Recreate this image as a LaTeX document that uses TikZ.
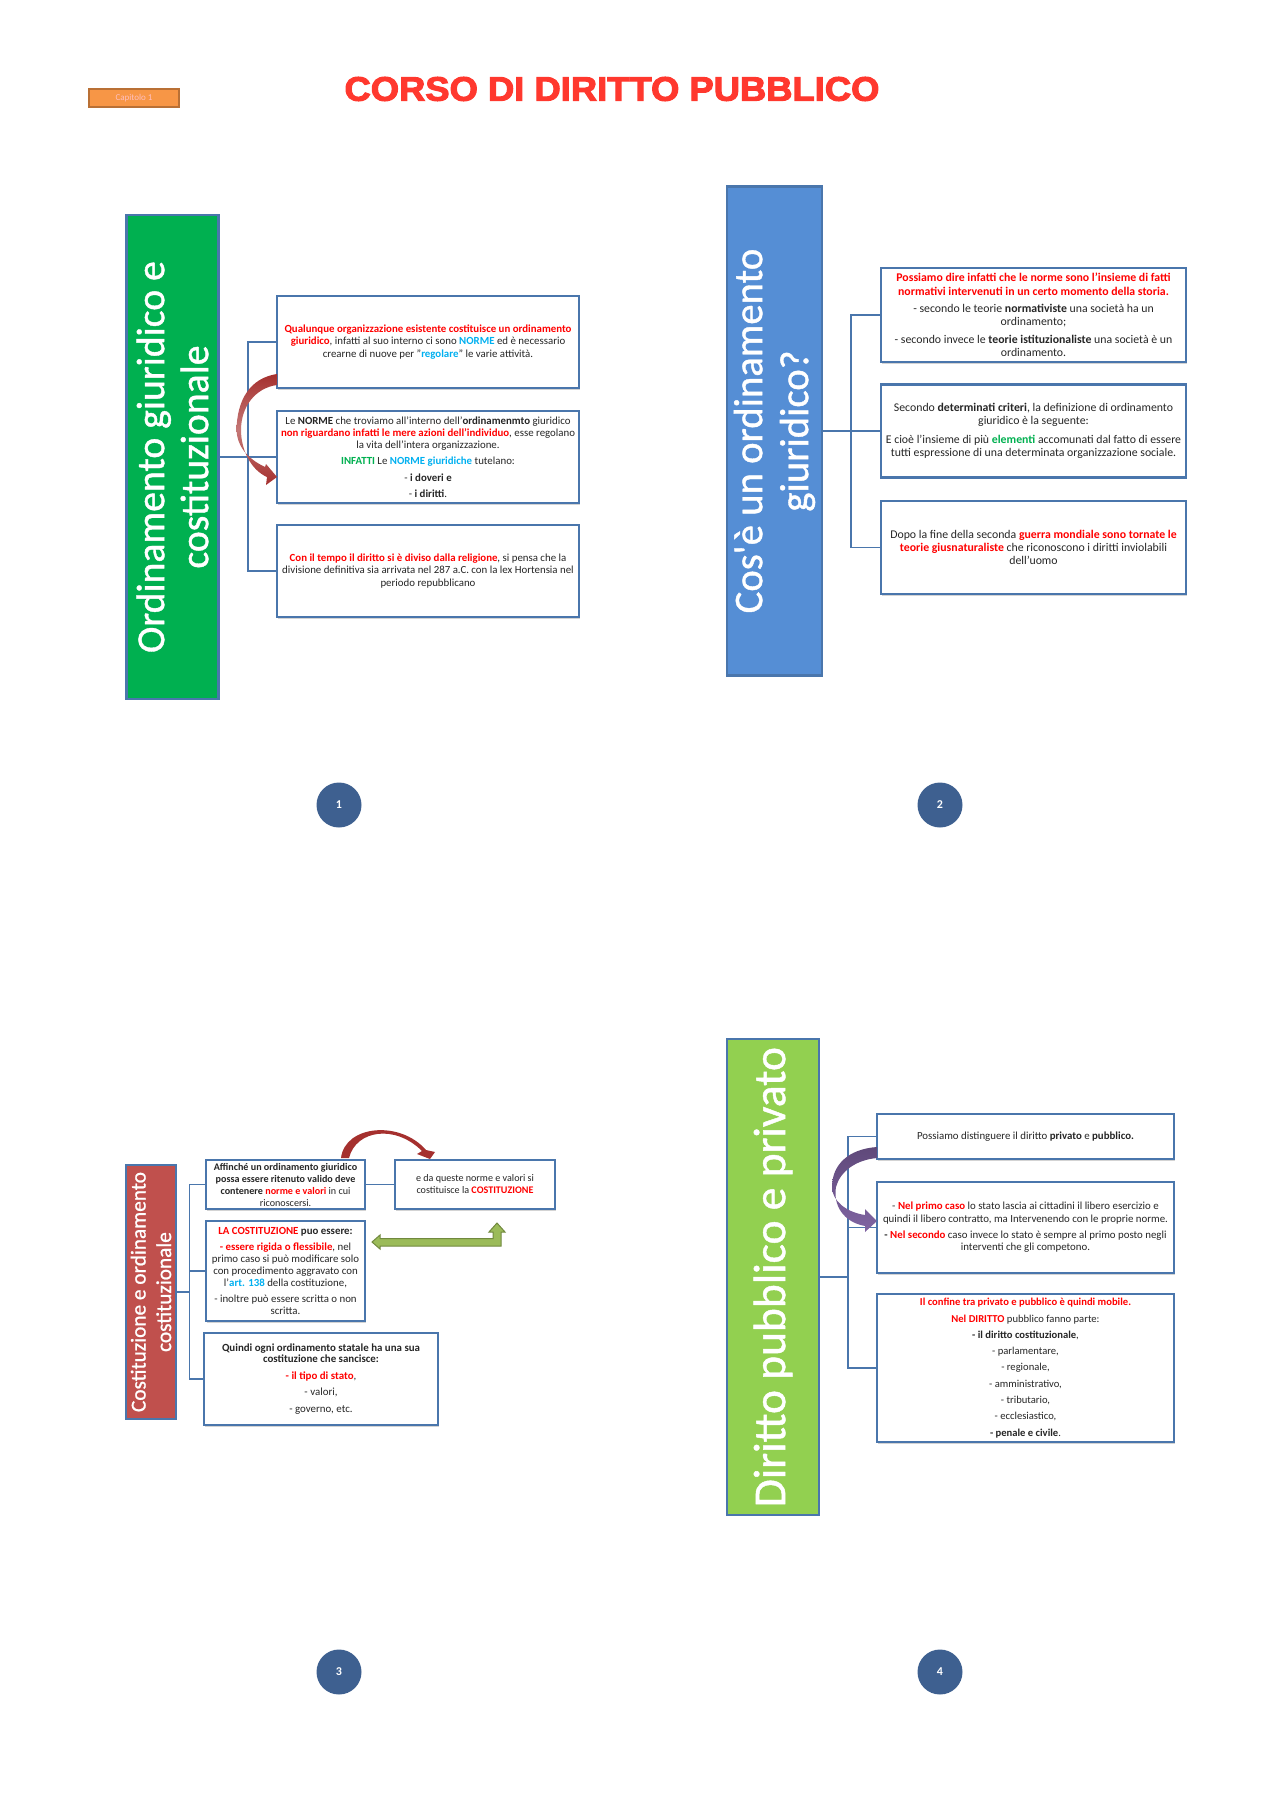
\documentclass[tikz,border=0pt]{standalone}
\usepackage{fontspec}
\setmainfont{Carlito}
\newfontfamily\titlefont[FakeBold=3,FakeStretch=1.07]{Liberation Sans}
\newfontfamily\pannellofont[FakeBold=1]{Carlito}
\usepackage{tikz}
\usetikzlibrary{arrows.meta,shadows}

\definecolor{rosso}{HTML}{FF0000}
\definecolor{azzurro}{HTML}{00B0F0}
\definecolor{verde}{HTML}{00B050}
\definecolor{bordo}{HTML}{4A76AC}
\definecolor{celeste}{HTML}{558ED5}
\definecolor{mattone}{HTML}{C0504D}
\definecolor{prato}{HTML}{92D050}
\definecolor{arancio}{HTML}{F79646}
\definecolor{ruggine}{HTML}{B97035}
\definecolor{notte}{HTML}{3E6090}
\definecolor{vino}{HTML}{A5302E}
\definecolor{oliva}{HTML}{9BBB59}
\definecolor{olivascuro}{HTML}{71893F}
\definecolor{prugna}{HTML}{5F497A}
\definecolor{lilla}{HTML}{8064A2}
\newcommand{\rosso}[1]{\textcolor{rosso}{\textbf{#1}}}
\newcommand{\azzurro}[1]{\textcolor{azzurro}{\textbf{#1}}}
\newcommand{\verde}[1]{\textcolor{verde}{\textbf{#1}}}

\tikzset{
    pannello/.style={draw=bordo, line width=2.8pt, rectangle, inner sep=0pt, text=white, align=center, rotate=90,
        drop shadow={shadow xshift=1pt, shadow yshift=-1pt, opacity=0.3}},
    scatola/.style={draw=bordo, fill=white, line width=2.8pt, rectangle, inner sep=0pt, align=center, text=black!85,
        font=\fontsize{10.85}{12.3}\selectfont,
        drop shadow={shadow xshift=1pt, shadow yshift=-1.5pt, opacity=0.35}},
    grande/.style={scatola, font=\fontsize{11.8}{13.3}\selectfont},
    piccola/.style={scatola, font=\fontsize{10.1}{12}\selectfont},
    numero/.style={circle, fill=notte, text=white, minimum size=45pt, inner sep=0pt, font=\fontsize{12}{14}\selectfont\bfseries},
    ramo/.style={draw=bordo, line width=1.9pt}
}

\begin{document}
\begin{tikzpicture}[x=1pt, y=-1pt]
    \useasboundingbox (0, 0) rectangle (1280, 1811);

    \node[draw=ruggine, fill=arancio, line width=1.8pt, minimum width=90pt, minimum height=18pt, inner sep=0pt, text=red!25!white, font=\fontsize{9}{10}\selectfont] (capitolo) at (134, 98) {Capitolo 1};
    \node[text={rgb,255:red,255;green,56;blue,46}, font=\fontsize{34}{36}\titlefont\bfseries] (titolo) at (612, 89) {CORSO DI DIRITTO PUBBLICO};

    \node[pannello, fill=verde, minimum width=484pt, minimum height=92pt, font=\fontsize{39.7}{44}\pannellofont] (ordinamento) at (172.5, 457) {Ordinamento giuridico e\\costituzionale};
    \node[scatola, minimum width=302pt, minimum height=92pt] (qualunque) at (428, 342) {\rosso{Qualunque organizzazione esistente costituisce un ordinamento}\\\rosso{giuridico}, infatti al suo interno ci sono \azzurro{NORME} ed è necessario\\crearne di nuove per "\azzurro{regolare}" le varie attività.};
    \node[scatola, minimum width=302pt, minimum height=92pt] (norme) at (428, 457) {Le \textbf{NORME} che troviamo all'interno dell'\textbf{ordinamenmto} giuridico\\\rosso{non riguardano infatti le mere azioni dell'individuo}, esse regolano\\la vita dell'intera organizzazione.\\[4pt]\verde{INFATTI} Le \azzurro{NORME giuridiche} tutelano:\\[4pt]- \textbf{i doveri e}\\[4pt]- \textbf{i diritti}.};
    \node[scatola, minimum width=302pt, minimum height=92pt] (tempo) at (428, 571) {\rosso{Con il tempo il diritto si è diviso dalla religione}, si pensa che la\\divisione definitiva sia arrivata nel 287 a.C. con la lex Hortensia nel\\periodo repubblicano};
    \coordinate (snodo1) at (248, 457);
    \draw[ramo] (ordinamento.south) -- (snodo1);
    \draw[ramo] (snodo1) |- (qualunque.west);
    \draw[ramo] (snodo1) -- (norme.west);
    \draw[ramo] (snodo1) |- (tempo.west);
    \shade[top color=vino, bottom color=vino, middle color=vino!65!white, shading angle=0]
        (277, 374) .. controls (250, 378) and (237, 400) .. (236.5, 430) .. controls (237, 445) and (246, 458) .. (265, 467) -- (266, 464) -- (277, 477) -- (266, 485) -- (267, 477)
        .. controls (251, 470) and (241, 450) .. (241, 430) .. controls (241, 407) and (255, 388) .. (277, 385) -- cycle;

    \node[pannello, fill=celeste, minimum width=489pt, minimum height=95pt, font=\fontsize{40.7}{46}\pannellofont] (cose) at (774.5, 431) {Cos'è un ordinamento\\giuridico?};
    \node[grande, minimum width=305pt, minimum height=94pt] (possiamo) at (1033.5, 315) {\rosso{Possiamo dire infatti che le norme sono l'insieme di fatti}\\\rosso{normativi intervenuti in un certo momento della storia.}\\[4pt]- secondo le teorie \textbf{normativiste} una società ha un\\ordinamento;\\[4pt]- secondo invece le \textbf{teorie istituzionaliste} una società è un\\ordinamento.};
    \node[grande, minimum width=305pt, minimum height=93pt] (criteri) at (1033.5, 431) {Secondo \textbf{determinati criteri}, la definizione di ordinamento\\giuridico è la seguente:\\[5pt]E cioè l'insieme di più \verde{elementi} accomunati dal fatto di essere\\tutti espressione di una determinata organizzazione sociale.};
    \node[grande, minimum width=305pt, minimum height=93pt] (dopo) at (1033.5, 547.5) {Dopo la fine della seconda \rosso{guerra mondiale sono tornate le}\\\rosso{teorie giusnaturaliste} che riconoscono i diritti inviolabili\\dell'uomo};
    \coordinate (snodo2) at (851, 431);
    \draw[ramo] (cose.south) -- (snodo2);
    \draw[ramo] (snodo2) -- (criteri.west);
    \draw[ramo] (snodo2) |- (possiamo.west);
    \draw[ramo] (snodo2) |- (dopo.west);

    \node[pannello, fill=mattone, minimum width=254pt, minimum height=50pt, font=\fontsize{21.3}{25.5}\pannellofont] (costituzione) at (151, 1292) {Costituzione e ordinamento\\costituzionale};
    \node[piccola, minimum width=159pt, minimum height=49pt] (affinche) at (285.5, 1184.5) {\textbf{Affinché un ordinamento giuridico}\\\textbf{possa essere ritenuto valido deve}\\\textbf{contenere} \rosso{norme e valori} in cui\\riconoscersi.};
    \node[piccola, minimum width=160pt, minimum height=49pt] (queste) at (475, 1184.5) {e da queste norme e valori si\\costituisce la \rosso{COSTITUZIONE}};
    \node[scatola, font=\fontsize{10.85}{12}\selectfont, minimum width=159pt, minimum height=100pt] (puo) at (285.5, 1271) {\rosso{LA COSTITUZIONE} \textbf{puo essere:}\\[4pt]\rosso{- essere rigida o flessibile}, nel\\primo caso si può modificare solo\\con procedimento aggravato con\\l'\azzurro{art. 138} della costituzione,\\[4pt]- inoltre può essere scritta o non\\scritta.};
    \node[scatola, font=\fontsize{10.9}{11.5}\selectfont, minimum width=234pt, minimum height=92pt] (statale) at (321, 1379) {\textbf{Quindi ogni ordinamento statale ha una sua}\\\textbf{costituzione che sancisce:}\\[5pt]\rosso{- il tipo di stato},\\[5pt]- valori,\\[5pt]- governo, etc.};
    \coordinate (snodo3) at (189.5, 1292);
    \draw[ramo] (costituzione.south) -- (snodo3);
    \draw[ramo] (snodo3) |- (affinche.west);
    \draw[ramo] (snodo3) |- (puo.west);
    \draw[ramo] (snodo3) |- (statale.west);
    \draw[ramo] (affinche.east) -- (queste.west);
    \fill[vino]
        (341, 1158) .. controls (345, 1125) and (400, 1120) .. (426, 1150) -- (435, 1152) -- (430, 1159) -- (417, 1154) -- (422, 1151)
        .. controls (395, 1124) and (356, 1130) .. (349, 1158) -- cycle;
    \draw[draw=olivascuro, fill=oliva, line width=1pt]
        (372, 1242) -- (380, 1235) -- (380, 1238.5) -- (493, 1238.5) -- (493, 1232) -- (489, 1232) -- (497, 1223) -- (505, 1232) -- (501, 1232) -- (501, 1246) -- (380, 1246) -- (380, 1249) -- cycle;

    \node[pannello, fill=prato, minimum width=476pt, minimum height=92pt, font=\fontsize{45.5}{48}\pannellofont] (diritto) at (773, 1277) {Diritto pubblico e privato};
    \node[scatola, minimum width=297pt, minimum height=45pt] (distinguere) at (1025.5, 1136.5) {Possiamo distinguere il diritto \textbf{privato} e \textbf{pubblico.}};
    \node[scatola, minimum width=297pt, minimum height=91pt] (caso) at (1025.5, 1227.5) {- \rosso{Nel primo caso} lo stato lascia ai cittadini il libero esercizio e\\quindi il libero contratto, ma Intervenendo con le proprie norme.\\[4pt]\textbf{-} \rosso{Nel secondo} caso invece lo stato è sempre al primo posto negli\\interventi che gli competono.};
    \node[scatola, font=\fontsize{10.6}{12.3}\selectfont, minimum width=297pt, minimum height=148pt] (confine) at (1025.5, 1368) {\rosso{Il confine tra privato e pubblico è quindi mobile.}\\[4pt]\rosso{Nel DIRITTO} pubblico fanno parte:\\[4pt]\textbf{- il diritto costituzionale},\\[4pt]- parlamentare,\\[4pt]- regionale,\\[4pt]- amministrativo,\\[4pt]- tributario,\\[4pt]- ecclesiastico,\\[4pt]\textbf{- penale e civile}.};
    \coordinate (snodo4) at (848, 1277);
    \draw[ramo] (diritto.south) -- (snodo4);
    \draw[ramo] (snodo4) |- (distinguere.west);
    \draw[ramo] (snodo4) |- (caso.west);
    \draw[ramo] (snodo4) |- (confine.west);
    \shade[top color=prugna, bottom color=lilla, shading angle=0]
        (877, 1147) .. controls (848, 1149) and (832, 1165) .. (832, 1187) .. controls (832, 1200) and (845, 1212) .. (865, 1215) -- (865, 1209) -- (877, 1221) -- (865, 1232) -- (865, 1226)
        .. controls (843, 1222) and (833, 1205) .. (836, 1187) .. controls (840, 1172) and (855, 1160) .. (877, 1158) -- cycle;

    \node[numero] (uno) at (339, 805) {1};
    \node[numero] (due) at (940, 805) {2};
    \node[numero] (tre) at (339, 1672) {3};
    \node[numero] (quattro) at (940, 1672) {4};
\end{tikzpicture}
\end{document}
